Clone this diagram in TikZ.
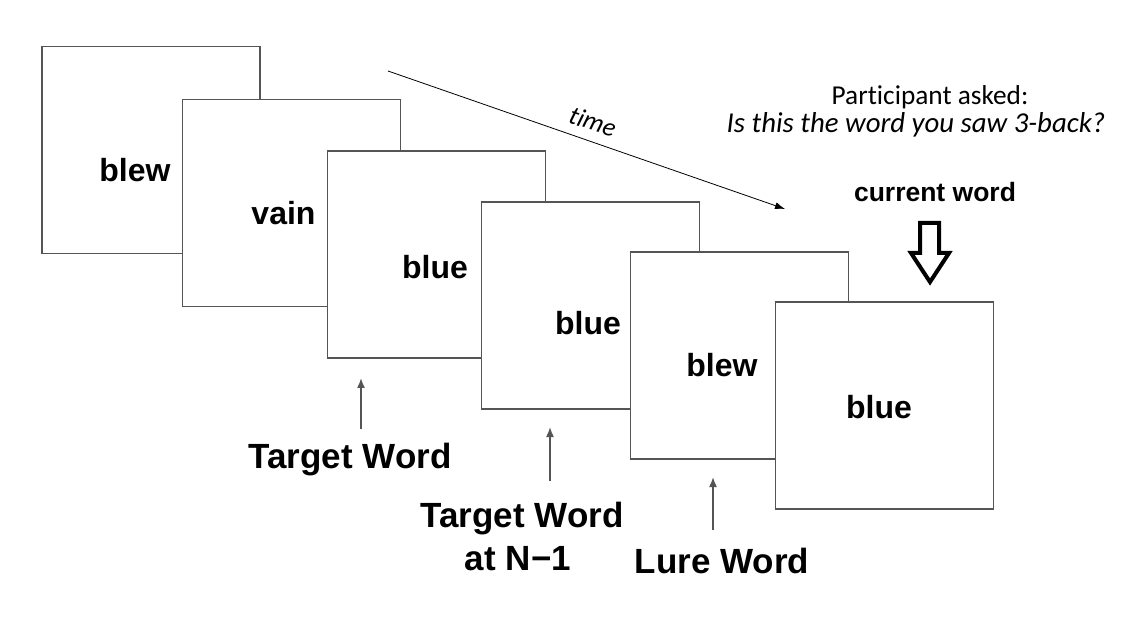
\documentclass[tikz,border=0pt]{standalone}
\usepackage{fontspec}
\setmainfont{Liberation Sans}
\newfontfamily\calfont[Ligatures=NoCommon]{Carlito}
\usepackage{tikz}
\usetikzlibrary{arrows.meta}

\definecolor{boxgray}{RGB}{85,85,85}

\tikzset{
  card/.style={draw=boxgray, line width=1.8pt, fill=white, minimum width=218pt, minimum height=207pt, inner sep=0pt},
  word/.style={anchor=base, inner sep=0pt, font=\fontsize{32}{38}\selectfont\bfseries},
  lbl/.style={anchor=base, inner sep=0pt, font=\fontsize{35}{42}\selectfont\bfseries},
  up/.style={-{Latex[length=10pt,width=8pt]}, draw=boxgray, line width=1.6pt}
}

\begin{document}
\begin{tikzpicture}[x=1pt, y=-1pt]
  \useasboundingbox (0,0) rectangle (1143,617);

  % the word cards, oldest first
  \node[card] (b1) at (151,150) {};
  \node[word] (w1) at (135,182) {blew};
  \node[card] (b2) at (291.5,203) {};
  \node[word] (w2) at (283.5,225) {vain};
  \node[card] (b3) at (436.5,254.5) {};
  \node[word] (w3) at (435,279) {blue};
  \node[card] (b4) at (590.5,305.5) {};
  \node[word] (w4) at (588,335) {blue};
  \node[card] (b5) at (739.5,355.5) {};
  \node[word] (w5) at (722,377) {blew};
  \node[card] (b6) at (884.5,405.5) {};
  \node[word] (w6) at (879,418) {blue};

  % time arrow
  \coordinate (t0) at (388,71);
  \coordinate (t1) at (785,209);
  \draw[-{Latex[length=10pt,width=7pt]}, line width=0.8pt] (t0) -- node[sloped, above=10pt, inner sep=0pt, font=\calfont\itshape\fontsize{26}{31}\selectfont] (time) {time} (t1);

  % question
  \node[anchor=base, inner sep=0pt, font=\calfont\fontsize{27.3}{33}\selectfont] (asked) at (930,105) {Participant asked:};
  \node[anchor=base, inner sep=0pt, font=\calfont\itshape\fontsize{28.8}{34}\selectfont] (question) at (916,133) {Is this the word you saw 3-back?};

  % current word marker
  \node[anchor=base, inner sep=0pt, font=\fontsize{26.5}{32}\selectfont\bfseries] (cur) at (935,202) {current word};
  \draw[line width=4pt, line join=miter] (920,223) -- (939,223) -- (939,253) -- (949,253) -- (930,282) -- (911,253) -- (920,253) -- cycle;

  % labels under the cards
  \coordinate (a1s) at (361,429);
  \coordinate (a1e) at (361,378);
  \draw[up] (a1s) -- (a1e);
  \node[lbl] (target) at (350,468) {Target Word};

  \coordinate (a2s) at (550,481);
  \coordinate (a2e) at (550,427);
  \draw[up] (a2s) -- (a2e);
  \node[lbl] (targetA) at (522,527) {Target Word};
  \node[lbl] (targetB) at (518,570) {at N−1};

  \coordinate (a3s) at (713,530);
  \coordinate (a3e) at (713,477);
  \draw[up] (a3s) -- (a3e);
  \node[lbl] (lure) at (722,573) {Lure Word};
\end{tikzpicture}
\end{document}
